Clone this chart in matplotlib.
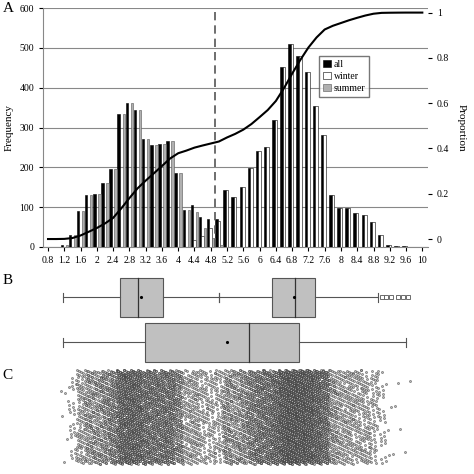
import numpy as np
import matplotlib
matplotlib.use("Agg")
import matplotlib.pyplot as plt

plt.rcParams['font.family'] = ['Liberation Serif', 'DejaVu Serif']

# histogram bins (lower value of each 0.2 bin)
bins = [round(0.8 + 0.2 * i, 1) for i in range(47)]
summer = [0, 0, 5, 30, 90, 130, 133, 160, 195, 335, 362, 343, 272, 256, 259, 265, 186, 92, 88, 48, 22, 5,
          0, 0, 0, 0, 0, 0, 0, 0, 0, 0, 0, 0, 0, 0, 0, 0, 0, 0, 0, 0, 0, 0, 0, 0, 0]
winter = [0, 0, 0, 0, 0, 0, 0, 0, 0, 0, 0, 0, 0, 0, 0, 0, 0, 0, 17, 27, 48, 65,
          143, 125, 150, 198, 242, 250, 319, 452, 510, 480, 440, 354, 281, 130, 98, 98, 86, 80, 63, 30, 5, 3, 2, 0, 0]
all_counts = [s + w for s, w in zip(summer, winter)]

# box plot statistics (whisker lo, q1, median, mean, q3, whisker hi)
box_summer = [1.16, 2.57, 3.01, 3.08, 3.62, 5.0]
box_winter = [5.0, 6.31, 6.87, 6.84, 7.35, 8.91]
winter_outliers = [9.0, 9.1, 9.22, 9.4, 9.53, 9.66]
box_all = [1.16, 3.18, 5.73, 5.19, 6.97, 9.61]
threshold = 4.9

xlim = (0.68, 10.14)
fig = plt.figure(figsize=(4.74, 4.74), dpi=100)

# ---- A: histogram
ax = fig.add_axes([0.091, 0.479, 0.812, 0.504])
x = np.array(bins)
w = 0.062
ax.bar(x - w, all_counts, w, color='black', edgecolor='black', lw=0.4, label='all', zorder=3)
ax.bar(x, winter, w, color='white', edgecolor='black', lw=0.4, label='winter', zorder=3)
ax.bar(x + w, summer, w, color='#b0b0b0', edgecolor='#555555', lw=0.4, label='summer', zorder=3)
ax.set_xlim(*xlim)
ax.set_ylim(0, 600)
ax.set_yticks(range(0, 601, 100))
ax.yaxis.grid(True, color='#888888', lw=0.8)
ax.set_axisbelow(True)
ax.set_xticks(bins[::2])
ax.set_xticklabels([f"{b:g}" for b in bins[::2]])
ax.tick_params(labelsize=7, length=3)
for s in ['top', 'right']:
    ax.spines[s].set_visible(False)
ax.spines['left'].set_color('#888888')
ax.spines['bottom'].set_color('#888888')
ax.set_ylabel('Frequency', fontsize=8)
ax.axvline(threshold, color='#555555', ls=(0, (5, 3)), lw=1.2, zorder=4)
ax.legend(loc='upper right', bbox_to_anchor=(0.86, 0.82), fontsize=7, frameon=True,
          fancybox=False, edgecolor='#555555', handlelength=0.8, handletextpad=0.3,
          borderpad=0.4, labelspacing=0.3)

ax2 = ax.twinx()
cum = np.cumsum(all_counts) / sum(all_counts)
ax2.plot(x, cum, color='black', lw=1.5, zorder=5)
ax2.set_ylim(-0.035, 1.02)
ax2.set_yticks(np.arange(0, 1.01, 0.2))
ax2.set_yticklabels(['0', '0.2', '0.4', '0.6', '0.8', '1'])
ax2.tick_params(labelsize=7, length=3)
for s in ['top', 'right', 'left', 'bottom']:
    ax2.spines[s].set_visible(False)
ax2.set_ylabel('Proportion', fontsize=8, rotation=-90, labelpad=12)
fig.text(0.005, 0.975, 'A', fontsize=11)

# ---- B: box plots
axb = fig.add_axes([0.091, 0.23, 0.812, 0.19])
axb.set_xlim(*xlim)
axb.set_ylim(0, 2)
def draw_box(stats, y, h):
    lo, q1, med, mean, q3, hi = stats
    axb.add_patch(plt.Rectangle((q1, y - h / 2), q3 - q1, h, facecolor='#c0c0c0', edgecolor='#555555', lw=0.8))
    axb.plot([med, med], [y - h / 2, y + h / 2], color='#333333', lw=0.9)
    axb.plot([lo, q1], [y, y], color='#555555', lw=0.8)
    axb.plot([q3, hi], [y, y], color='#555555', lw=0.8)
    for v in (lo, hi):
        axb.plot([v, v], [y - 0.1, y + 0.1], color='#555555', lw=0.8)
    axb.plot(mean, y, 'k.', ms=2.5)
draw_box(box_summer, 1.5, 0.85)
draw_box(box_winter, 1.5, 0.85)
draw_box(box_all, 0.5, 0.85)
axb.plot(winter_outliers, [1.5] * len(winter_outliers), 's', mfc='white', mec='#555555', ms=3, mew=0.6)
axb.axis('off')
fig.text(0.005, 0.4, 'B', fontsize=11)

# ---- C: jittered strip of all observations (one point per count)
axc = fig.add_axes([0.091, 0.015, 0.812, 0.211])
axc.set_xlim(*xlim)
axc.set_ylim(0, 1)
g1, g2 = 0.6180339887, 0.7548776662
px, py = [], []
k = 0
for b, n in zip(bins, all_counts):
    for j in range(n):
        k += 1
        px.append(b - 0.1 + 0.2 * ((k * g1) % 1.0))
        py.append(0.03 + 0.94 * ((k * g2) % 1.0))
axc.scatter(px, py, s=2.2, facecolor='#aaaaaa', edgecolor='#222222', linewidths=0.35, alpha=0.8)
axc.axis('off')
fig.text(0.005, 0.2, 'C', fontsize=11)

fig.savefig('out.png', dpi=100)
